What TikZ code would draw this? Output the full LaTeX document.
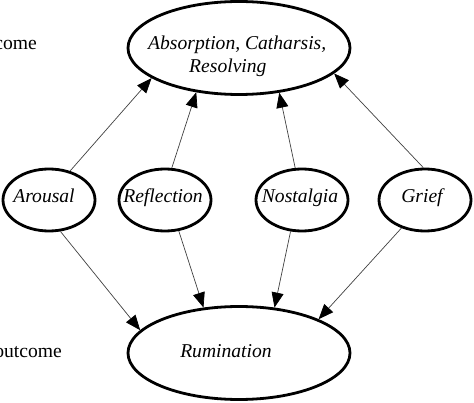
\documentclass[tikz,border=0pt]{standalone}
\usepackage{fontspec}
\setmainfont{Liberation Serif}
\usetikzlibrary{shapes.geometric,arrows.meta}
\begin{document}
\begin{tikzpicture}[x=1pt,y=-1pt,
  bigell/.style={ellipse,draw,line width=2.8pt,minimum width=222pt,minimum height=93pt,inner sep=0pt},
  smallell/.style={ellipse,draw,line width=2.8pt,minimum width=92pt,minimum height=62pt,inner sep=0pt},
  lbl/.style={font=\fontsize{19.6}{23}\selectfont\itshape,inner sep=0pt},
  side/.style={font=\fontsize{19.6}{23}\selectfont,inner sep=0pt,anchor=base east},
  arr/.style={-{Triangle[length=15pt,width=12pt,color=black]},line width=0.7pt,draw=black!75}
]
\useasboundingbox (0,0) rectangle (474,403);
\node[bigell] (top) at (239,48) {};
\node[lbl,anchor=base west] (t1) at (148,50) {Absorption, Catharsis,};
\node[lbl,anchor=base west] (t2) at (189,73) {Resolving};
\node[bigell] (bot) at (239,353) {};
\node[lbl,anchor=base] (bt) at (226,358) {Rumination};
\node[smallell] (aro) at (49,200) {};
\node[smallell] (ref) at (165,200) {};
\node[smallell] (nos) at (302,200) {};
\node[smallell] (gri) at (425,200) {};
\node[lbl,anchor=base] (aroT) at (44,203) {Arousal};
\node[lbl,anchor=base] (refT) at (163,203) {Reflection};
\node[lbl,anchor=base] (nosT) at (300,203) {Nostalgia};
\node[lbl,anchor=base] (griT) at (422,203) {Grief};
\node[side] (c1) at (37,50) {come};
\node[side] (c2) at (62,358) {outcome};
\draw[arr] (aro.54) -- (top.199);
\draw[arr] (ref.78) -- (top.226);
\draw[arr] (nos.102) -- (top.312);
\draw[arr] (gri.93) -- (top.345);
\draw[arr] (aro.290) -- (bot.167);
\draw[arr] (ref.294) -- (bot.128);
\draw[arr] (nos.250) -- (bot.52);
\draw[arr] (gri.230) -- (bot.23);
\end{tikzpicture}
\end{document}
